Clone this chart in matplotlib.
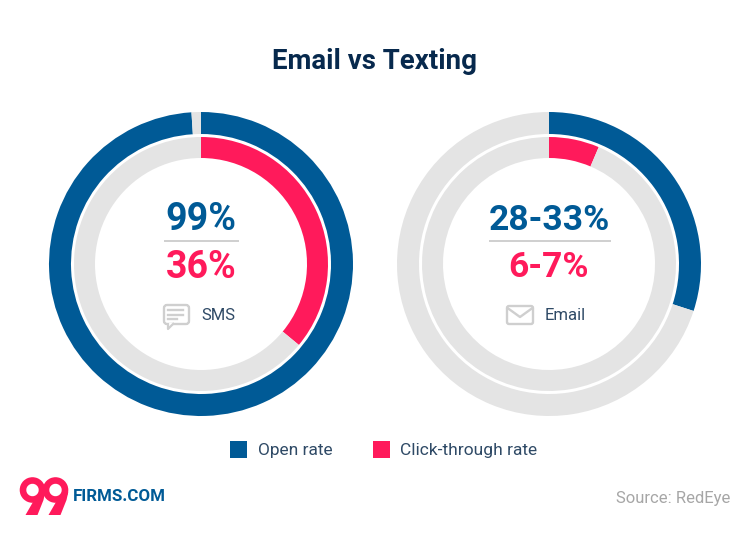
import matplotlib
matplotlib.use("Agg")
import matplotlib.pyplot as plt
from matplotlib.patches import Rectangle, FancyBboxPatch, Polygon, Wedge

W, H = 750, 535
title = "Email vs Texting"
channels = ["SMS", "Email"]
open_rate = [99, 30]
click_rate = [36, 6.4]
open_labels = ["99%", "28-33%"]
click_labels = ["36%", "6-7%"]
legend_labels = ["Open rate", "Click-through rate"]
source = "Source: RedEye"

BLUE = "#005a96"
RED = "#ff1a5b"
GRAY = "#e4e4e4"
NAVY = "#07294d"
TXT = "#2f4a66"
ICON = "#cfcfcf"

plt.rcParams["font.family"] = ["Roboto", "DejaVu Sans"]

fig = plt.figure(figsize=(W / 100, H / 100), dpi=100, facecolor="white")
ax = fig.add_axes([0, 0, 1, 1])


def Y(p):
    return H - p


def ring(cx, value, color, radius, width):
    ax.pie([value, 100 - value], colors=[color, GRAY], startangle=90, counterclock=False,
           center=(cx, Y(264)), radius=radius, wedgeprops=dict(width=width, linewidth=0))


centers = [201, 549]
sizes = [27, 25.5]
for cx, o, c, ol, cl, fs in zip(centers, open_rate, click_rate, open_labels, click_labels, sizes):
    ring(cx, o, BLUE, 152, 22)
    ring(cx, c, RED, 127, 21)
    ax.text(cx, Y(220), ol, color=BLUE, fontsize=fs, fontweight="bold", ha="center", va="center")
    ax.text(cx, Y(267.5), cl, color=RED, fontsize=fs, fontweight="bold", ha="center", va="center")

ax.set_xlim(0, W)
ax.set_ylim(0, H)
ax.set_aspect("auto")
ax.axis("off")

# divider lines
ax.plot([164, 239], [Y(241)] * 2, color="#cccccc", lw=1.3, solid_capstyle="butt")
ax.plot([488.5, 611], [Y(241)] * 2, color="#cccccc", lw=1.3, solid_capstyle="butt")

ax.text(272, Y(61.5), title, color=NAVY, fontsize=19.9, fontweight="bold", ha="left", va="center")

# channel captions
ax.text(201, Y(315.5), channels[0], color=TXT, fontsize=12, ha="left", va="center")
ax.text(544.5, Y(315.5), channels[1], color=TXT, fontsize=12, ha="left", va="center")

# SMS icon
ax.add_patch(FancyBboxPatch((164, Y(324)), 25, 19, boxstyle="round,pad=0,rounding_size=3",
                            fc="white", ec=ICON, lw=1.7))
ax.add_patch(Polygon([(168, Y(323)), (168, Y(329)), (174, Y(323))], closed=False, fc="white", ec=ICON, lw=1.6, joinstyle="round"))
ax.plot([168, 183], [Y(310)] * 2, color=ICON, lw=1.7)
ax.plot([168, 183], [Y(314.5)] * 2, color=ICON, lw=1.7)
ax.plot([168, 177], [Y(319)] * 2, color=ICON, lw=1.7)

# Email icon
ax.add_patch(FancyBboxPatch((507, Y(324)), 26, 18, boxstyle="round,pad=0,rounding_size=2",
                            fc="white", ec=ICON, lw=1.7))
ax.plot([507.5, 520, 532.5], [Y(308), Y(317), Y(308)], color=ICON, lw=1.7, solid_joinstyle="round")

# legend
ax.add_patch(Rectangle((230, Y(458)), 17, 17, fc=BLUE, ec="none"))
ax.text(257.5, Y(451), legend_labels[0], color=TXT, fontsize=12.5, ha="left", va="center")
ax.add_patch(Rectangle((373, Y(458)), 17, 17, fc=RED, ec="none"))
ax.text(400, Y(451), legend_labels[1], color=TXT, fontsize=12.5, ha="left", va="center")

ax.text(730, Y(499), source, color="#a6a6a6", fontsize=12, ha="right", va="center")

# logo
for lx in (32.5, 55.5):
    ax.add_patch(Wedge((lx, Y(490)), 12.8, 0, 360, width=6.6, fc=RED, ec="none"))
    ax.add_patch(Polygon([(lx + 12.8, Y(492)), (lx + 0.5, Y(502)), (lx - 7, Y(515)), (lx + 5, Y(515)), (lx + 11, Y(500))],
                         fc=RED, ec="none"))
ax.text(73, Y(496.5), "FIRMS.COM", color=BLUE, fontsize=12.2, fontweight="bold",
        ha="left", va="center")

fig.savefig("out.png", dpi=100, facecolor="white")
